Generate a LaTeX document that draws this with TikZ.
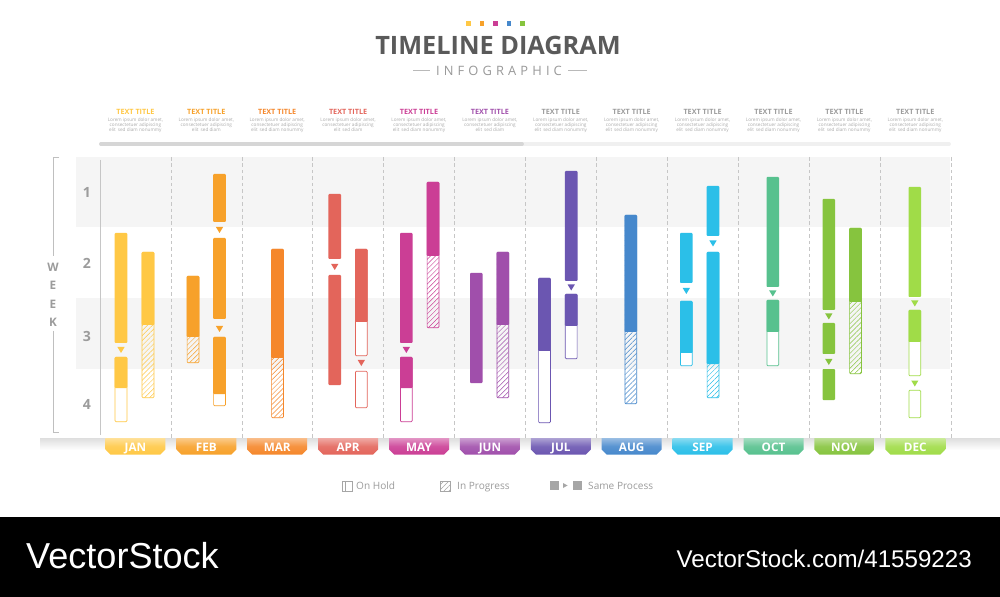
\documentclass[tikz,border=0pt]{standalone}
\usepackage{fontspec}
\setmainfont{Open Sans}
\newfontfamily\bannerfont{Liberation Sans}
\usetikzlibrary{patterns.meta}
\definecolor{JanClr}{HTML}{FFC845}
\definecolor{FebClr}{HTML}{F7A12A}
\definecolor{MarClr}{HTML}{F5872B}
\definecolor{AprClr}{HTML}{E3655B}
\definecolor{MayClr}{HTML}{CB3E95}
\definecolor{JunClr}{HTML}{A04FAB}
\definecolor{JulClr}{HTML}{6B56B1}
\definecolor{AugClr}{HTML}{4688CC}
\definecolor{SepClr}{HTML}{2BBFE8}
\definecolor{OctClr}{HTML}{57C18E}
\definecolor{NovClr}{HTML}{86C43E}
\definecolor{DecClr}{HTML}{A0DC48}
\definecolor{TitleClr}{HTML}{5A5A5A}
\definecolor{MutedClr}{HTML}{9C9C9C}
\definecolor{BandClr}{HTML}{F5F5F5}

\tikzset{
  piece/.style={rounded corners=0.8pt},
  outline/.style={piece,line width=0.6pt},
  hatch/.style={pattern={Lines[angle=45,distance=3pt,line width=0.4pt]}},
  sepline/.style={gray!45,line width=0.4pt,dash pattern=on 3pt off 2.5pt},
  tablbl/.style={white,font=\bfseries\fontsize{10}{10}\selectfont,inner sep=0pt,anchor=base},
  weeklbl/.style={MutedClr,font=\bfseries\fontsize{12}{12}\selectfont,inner sep=0pt},
  legendtxt/.style={gray!70!black!60,font=\fontsize{8.6}{9}\selectfont,anchor=base west,inner sep=0pt},
}

% bar pieces: x is the bar centre, y values run downwards
\newcommand{\solidseg}[4]{\fill[#4,piece] (#1-6.3,#2) rectangle (#1+6.3,#3);}
\newcommand{\holdbox}[4]{\draw[#4,outline,fill=white] (#1-5.9,#2+0.3) rectangle (#1+5.9,#3-0.3);}
\newcommand{\holdseg}[5]{\holdbox{#1}{#2}{#4}{#5}\solidseg{#1}{#2}{#3}{#5}}
\newcommand{\progseg}[5]{%
  \draw[#5,outline,hatch,pattern color=#5] (#1-5.9,#2+0.3) rectangle (#1+5.9,#4-0.3);
  \solidseg{#1}{#2}{#3}{#5}}
\newcommand{\nextmark}[3]{\fill[#3] (#1-3.6,#2-3) -- (#1+3.6,#2-3) -- (#1,#2+3) -- cycle;}

\begin{document}
\begin{tikzpicture}[x=0.03cm,y=-0.03cm]
\useasboundingbox (0,0) rectangle (1000,597);
\fill[white] (0,0) rectangle (1000,597);

% Heading.
\foreach \c [count=\i] in {JanClr,FebClr,MayClr,AugClr,NovClr}
  \fill[\c] (455+13.5*\i-2.4,21) rectangle (455+13.5*\i+2.4,25.6);
\node[TitleClr,font=\bfseries\fontsize{21.6}{22}\selectfont,inner sep=0pt] (title) at (498,45) {TIMELINE DIAGRAM};
\node[gray!80,font=\fontsize{11}{11}\selectfont\addfontfeature{LetterSpace=32},inner sep=0pt] (subtitle) at (499,70.5) {INFOGRAPHIC};
\draw[gray!55,line width=0.6pt] (413,70) -- (430,70) (568,70) -- (587,70);

% Text titles and the progress line.
\foreach \c/\e [count=\i from 0] in {JanClr/elit\, sed diam nonummy,FebClr/elit\, sed diam,MarClr/elit\, sed diam nonummy,AprClr/elit\, sed diam,MayClr/elit\, sed diam nonummy,JunClr/elit\, sed diam,MutedClr/elit\, sed diam nonummy,MutedClr/elit\, sed diam nonummy,MutedClr/elit\, sed diam nonummy,MutedClr/elit\, sed diam nonummy,MutedClr/elit\, sed diam nonummy,MutedClr/elit\, sed diam nonummy}{
  \node[\c,font=\bfseries\fontsize{6.2}{6.5}\selectfont,inner sep=0pt] (ttl\i) at (135.4+70.9*\i,111.7) {TEXT TITLE};
  \node[gray!65,font=\fontsize{4}{4.6}\selectfont,align=center,inner sep=0pt,anchor=north] (txt\i) at (135.4+70.9*\i,117.3)
    {Lorem ipsum dolor amet,\\consectetuer adipiscing\\\e};
}
\draw[gray!12,line width=3.2pt,line cap=round] (101,144) -- (949,144);
\draw[gray!32,line width=3.2pt,line cap=round] (101,144) -- (522,144);

% Chart background.
\shade[top color=black!13,bottom color=white] (40,438) rectangle (1000,450);
\fill[white] (40,150) rectangle (1000,438);
\fill[BandClr] (76,157) rectangle (950,227.5);
\fill[BandClr] (76,298) rectangle (950,368.5);
\draw[gray!45,line width=0.5pt] (100,160) -- (100,435);
\foreach \i in {1,...,12}
  \draw[sepline] (100+70.9*\i,157) -- (100+70.9*\i,438);

% Week axis.
\foreach \w/\y in {1/192,2/263,3/336,4/404}
  \node[weeklbl] (wk\w) at (87,\y) {\w};
\draw[gray!50,line width=0.5pt] (59,157) -- (53,157) -- (53,256) (53,331) -- (53,432) -- (59,432);
\foreach \l/\y [count=\i] in {W/267,E/285.5,E/304,K/322}
  \node[MutedClr,font=\bfseries\fontsize{10}{10}\selectfont,inner sep=0pt] (lt\i) at (53,\y) {\l};

% Month tabs.
\foreach \m/\c [count=\i from 0] in {JAN/JanClr,FEB/FebClr,MAR/MarClr,APR/AprClr,MAY/MayClr,JUN/JunClr,JUL/JulClr,AUG/AugClr,SEP/SepClr,OCT/OctClr,NOV/NovClr,DEC/DecClr}{
  \shade[top color=\c!55!white,bottom color=\c,middle color=\c!90!white]
    (105.4+70.9*\i,438) -- (165.4+70.9*\i,438) -- (165.4+70.9*\i,449.5) -- (160.4+70.9*\i,454.5)
    -- (110.4+70.9*\i,454.5) -- (105.4+70.9*\i,449.5) -- cycle;
  \node[tablbl] (tab\i) at (135.4+70.9*\i,451.2) {\m};
}

% Bars per month.
\solidseg{121}{233}{343}{JanClr}
\nextmark{121}{350}{JanClr}
\holdseg{121}{357}{388}{422}{JanClr}
\progseg{148}{252}{325}{398}{JanClr}

\progseg{193}{276}{337}{363}{FebClr}
\solidseg{219.5}{174}{222}{FebClr}
\nextmark{219.5}{230}{FebClr}
\solidseg{219.5}{238}{319}{FebClr}
\nextmark{219.5}{329}{FebClr}
\holdseg{219.5}{337}{394}{406}{FebClr}

\progseg{277.5}{249}{358}{418}{MarClr}

\solidseg{334.7}{194}{259}{AprClr}
\nextmark{334.7}{267}{AprClr}
\solidseg{334.7}{275}{385}{AprClr}
\holdseg{361.3}{249}{322}{356}{AprClr}
\nextmark{361.3}{363}{AprClr}
\holdbox{361.3}{371}{408}{AprClr}

\solidseg{406.3}{233}{343}{MayClr}
\nextmark{406.3}{350}{MayClr}
\holdseg{406.3}{357}{388}{422}{MayClr}
\progseg{433}{182}{256}{328}{MayClr}

\solidseg{476.3}{273}{383}{JunClr}
\progseg{502.8}{252}{325}{398}{JunClr}

\holdseg{544.5}{278}{351}{423}{JulClr}
\solidseg{571.2}{171}{281}{JulClr}
\nextmark{571.2}{287.5}{JulClr}
\holdseg{571.2}{294}{326}{359}{JulClr}

\progseg{630.8}{215}{332}{404}{AugClr}

\solidseg{686.3}{233}{283}{SepClr}
\nextmark{686.3}{291}{SepClr}
\holdseg{686.3}{301}{353}{366}{SepClr}
\solidseg{713}{186}{236}{SepClr}
\nextmark{713}{243.5}{SepClr}
\progseg{713}{252}{364}{398}{SepClr}

\solidseg{772.8}{177}{287}{OctClr}
\nextmark{772.8}{293.5}{OctClr}
\holdseg{772.8}{300}{332}{366}{OctClr}

\solidseg{828.8}{199}{310}{NovClr}
\nextmark{828.8}{316.5}{NovClr}
\solidseg{828.8}{323}{354}{NovClr}
\nextmark{828.8}{362}{NovClr}
\solidseg{828.8}{369}{400}{NovClr}
\progseg{855.5}{228}{302}{374}{NovClr}

\solidseg{914.8}{187}{297}{DecClr}
\nextmark{914.8}{303.5}{DecClr}
\holdseg{914.8}{310}{342}{376}{DecClr}
\nextmark{914.8}{383.5}{DecClr}
\holdbox{914.8}{390}{418}{DecClr}

% Legend.
\draw[gray!70,line width=0.5pt] (342.5,481) rectangle (352.5,491);
\draw[gray!70,line width=0.5pt] (345,481) -- (345,491);
\node[legendtxt] (onhold) at (356,489.5) {On Hold};
\draw[gray!70,line width=0.5pt,hatch,pattern color=gray!70] (440,481) rectangle (450,491);
\node[legendtxt] (inprog) at (457,489.5) {In Progress};
\fill[gray!70] (550,481) rectangle (559,490);
\fill[gray!70] (563,483) -- (567.5,485.5) -- (563,488) -- cycle;
\fill[gray!70] (573,481) rectangle (582,490);
\node[legendtxt] (same) at (588,489.5) {Same Process};

% Stock banner.
\fill[black] (0,517) rectangle (1000,597);
\node[white,font=\bannerfont\fontsize{30.8}{31}\selectfont,anchor=base west,inner sep=0pt] (brand) at (26,568) {VectorStock};
\node[white,font=\bannerfont\fontsize{20.6}{21}\selectfont,anchor=base east,inner sep=0pt] (ref) at (972,567) {VectorStock.com/41559223};
\end{tikzpicture}
\end{document}
